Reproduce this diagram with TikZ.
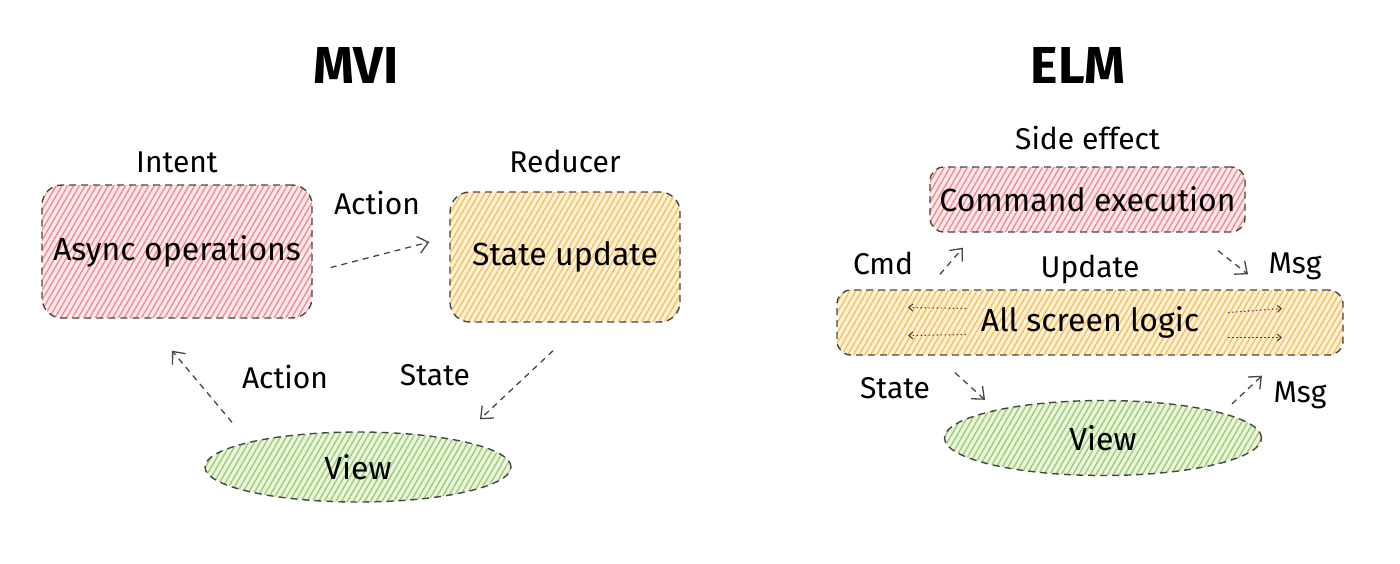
\documentclass[tikz,border=0pt]{standalone}
\usepackage{fontspec}
\setmainfont{Fira Sans}
\usetikzlibrary{arrows.meta,positioning,patterns.meta,shapes.geometric}

\definecolor{edge}{RGB}{70,70,70}
\definecolor{bgred}{RGB}{255,232,234}
\definecolor{lnred}{RGB}{240,140,152}
\definecolor{bgyel}{RGB}{255,242,215}
\definecolor{lnyel}{RGB}{244,192,96}
\definecolor{bggrn}{RGB}{234,245,222}
\definecolor{lngrn}{RGB}{160,204,118}

\begin{document}
\begin{tikzpicture}[
    x=1pt, y=-1pt,
    font=\fontsize{30}{36}\selectfont,
    box/.style={draw=edge, line width=1.4pt, dash pattern=on 7pt off 5pt,
        rounded corners=20pt, align=center, inner sep=0pt,
        font=\fontsize{32}{38}\selectfont,
        pattern={Lines[angle=60,distance=5pt,line width=1.4pt]}},
    redbox/.style={box, preaction={fill=bgred}, pattern color=lnred},
    yelbox/.style={box, preaction={fill=bgyel}, pattern color=lnyel},
    viewpod/.style={box, ellipse, preaction={fill=bggrn}, pattern color=lngrn},
    lbl/.style={inner sep=2pt},
    title/.style={font=\fontsize{52}{60}\selectfont\bfseries},
    arrow/.style={-{Straight Barb[length=10pt,width=17pt]}, draw=edge,
        line width=1.3pt, dash pattern=on 6pt off 5pt},
    dots/.style={-{Straight Barb[length=4pt,width=7pt]}, draw=edge,
        line width=1.1pt, dash pattern=on 1.5pt off 2.5pt}
]
\useasboundingbox (0,0) rectangle (1400,563);

% MVI
\node[title] (mvi) at (356,65) {MVI};
\node[redbox, minimum width=270pt, minimum height=133pt] (async) at (177,251.5) {Async operations};
\node[yelbox, minimum width=230pt, minimum height=130pt] (reducer) at (565,257) {State update};
\node[viewpod, minimum width=306pt, minimum height=70pt] (mview) at (358,467) {View};

\node[lbl, above=9pt of async] (intent) {Intent};
\node[lbl, above=16pt of reducer] (reducerlbl) {Reducer};
\node[lbl] (actiontop) at (377,203) {Action};
\node[lbl] (actionlow) at (285,377) {Action};
\node[lbl] (statelbl) at (435,375) {State};

\draw[arrow] ([xshift=18pt, yshift=-16pt]async.east) -- ([xshift=-20pt, yshift=15pt]reducer.west);
\draw[arrow] ([xshift=-12pt, yshift=-28pt]reducer.south) -- ([xshift=122pt, yshift=12pt]mview.north);
\draw[arrow] ([xshift=-126pt, yshift=9pt]mview.north) -- ([xshift=-5pt, yshift=-32pt]async.south);

% ELM
\node[title] (elm) at (1078,65) {ELM};
\node[redbox, rounded corners=14pt, minimum width=315pt, minimum height=65pt] (cmdbox) at (1087.5,199.5) {Command execution};
\node[yelbox, rounded corners=14pt, minimum width=506pt, minimum height=65pt] (logic) at (1090,322.5) {All screen logic};
\node[viewpod, minimum width=317pt, minimum height=75pt] (eview) at (1103,438) {View};

\node[lbl, above=14pt of cmdbox] (sidefx) {Side effect};
\node[lbl, above=3pt of logic] (update) {Update};
\node[lbl] (cmdlbl) at (883,263) {Cmd};
\node[lbl] (msgtop) at (1295,266) {Msg};
\node[lbl] (stateelm) at (895,388) {State};
\node[lbl] (msglow) at (1300,395) {Msg};

\draw[arrow] ([xshift=-150pt, yshift=15pt]logic.north) -- ([xshift=-124.5pt, yshift=-15pt]cmdbox.south);
\draw[arrow] ([xshift=130.5pt, yshift=-18pt]cmdbox.south) -- ([xshift=158pt, yshift=15pt]logic.north);
\draw[arrow] ([xshift=-135pt, yshift=-17pt]logic.south) -- ([xshift=-118pt]eview.north);
\draw[arrow] ([xshift=129pt, yshift=-4pt]eview.north) -- ([xshift=172pt, yshift=-20pt]logic.south);

\draw[dots] ([xshift=-124pt, yshift=14pt]logic.center) -- ([xshift=-182pt, yshift=15pt]logic.center);
\draw[dots] ([xshift=-124pt, yshift=-12pt]logic.center) -- ([xshift=-182pt, yshift=-13pt]logic.center);
\draw[dots] ([xshift=138pt, yshift=10pt]logic.center) -- ([xshift=192pt, yshift=14pt]logic.center);
\draw[dots] ([xshift=138pt, yshift=-15pt]logic.center) -- ([xshift=192pt, yshift=-15pt]logic.center);
\end{tikzpicture}
\end{document}
